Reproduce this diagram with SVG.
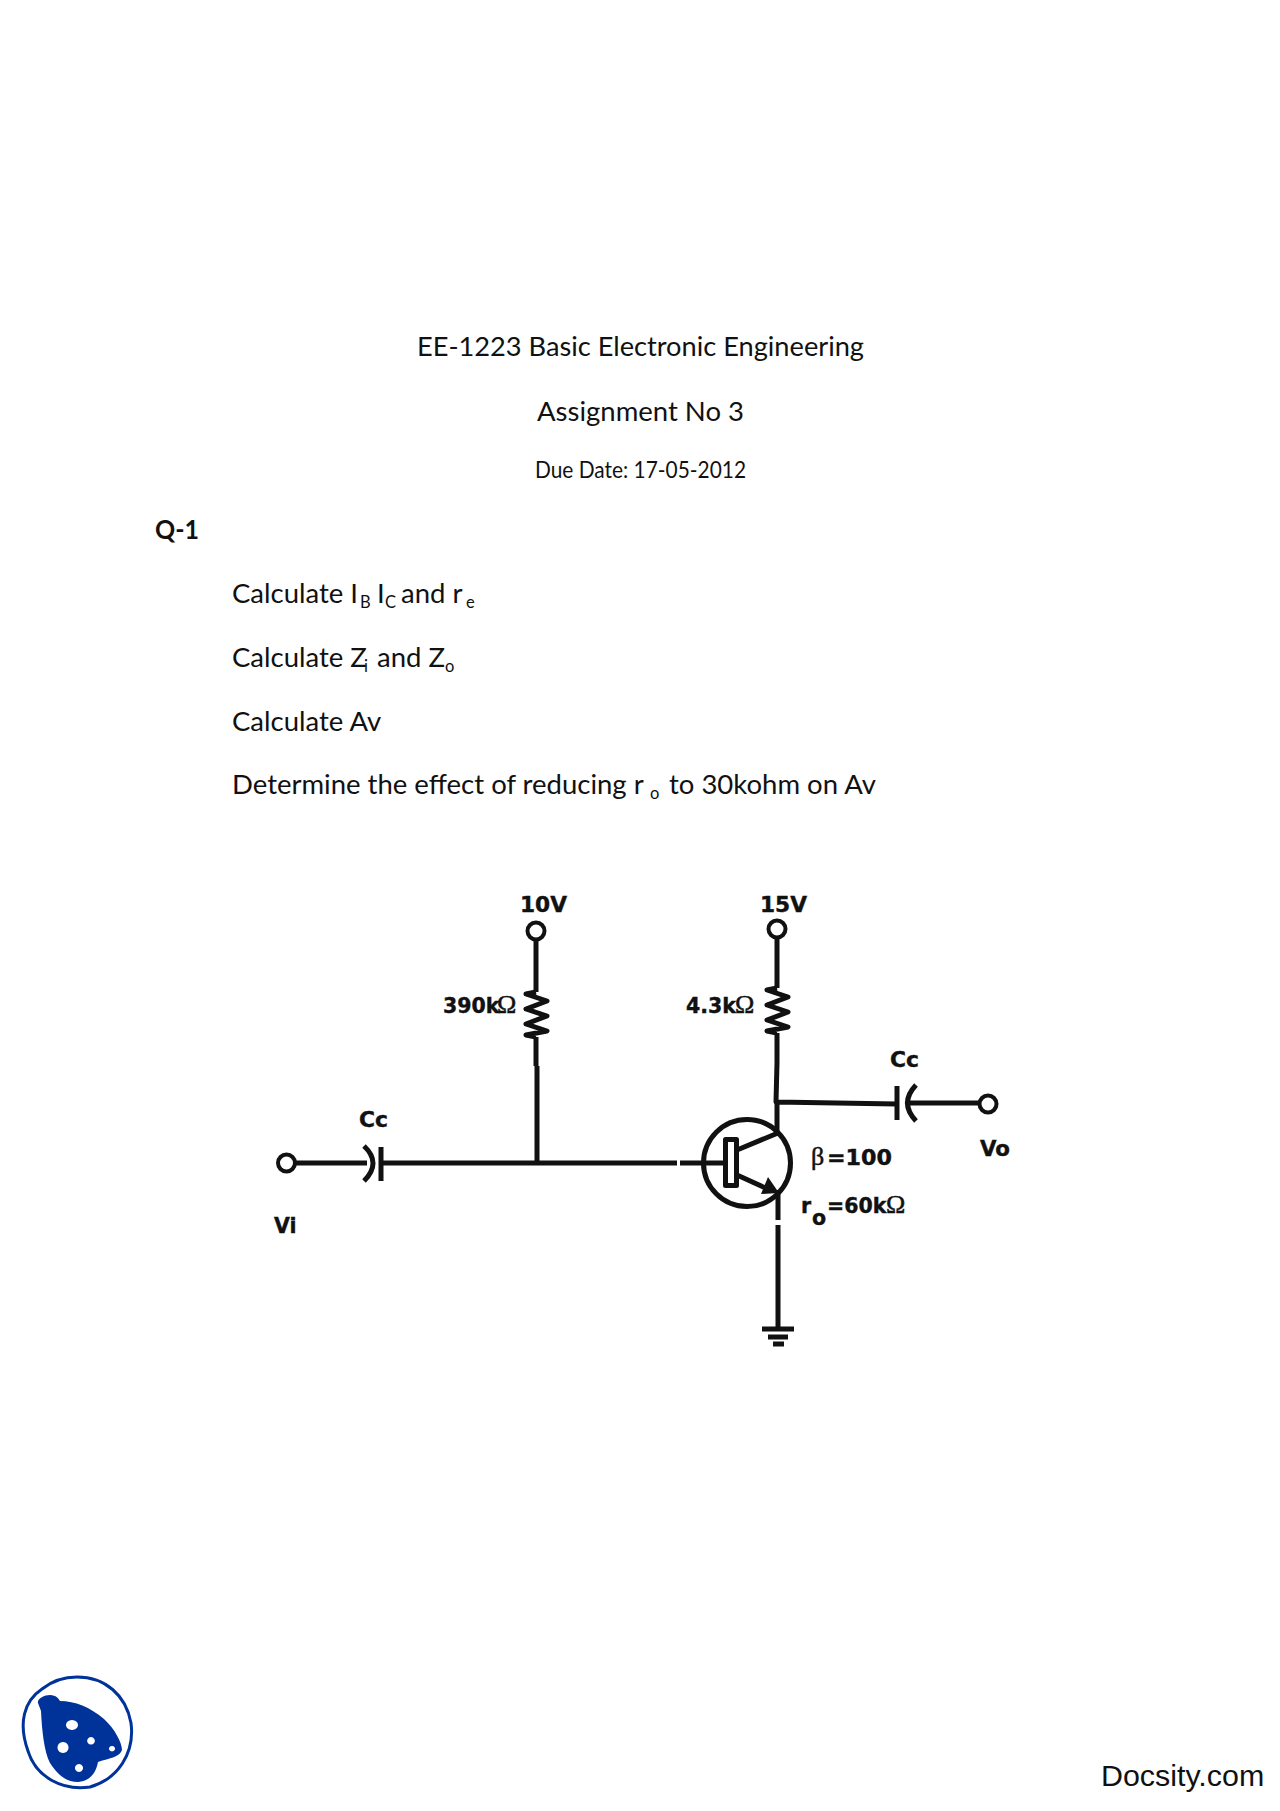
<svg xmlns="http://www.w3.org/2000/svg" width="1280" height="1811" viewBox="0 0 1280 1811">
<style>
.t{font-family:"Lato","Noto Sans",sans-serif;font-size:27.5px;fill:#111}
.s{font-size:16.5px}
.l{font-family:"DejaVu Sans",Verdana,sans-serif;font-weight:700;font-size:20.5px;fill:#111;stroke:#111;stroke-width:.4}
.g{font-family:"Liberation Serif",serif;font-weight:400;font-size:26px;fill:#111;stroke:#111;stroke-width:.5}
.w{fill:none;stroke:#111;stroke-width:5;stroke-linejoin:round}
.p{fill:#fff;stroke:#111;stroke-width:4}
</style>
<rect width="1280" height="1811" fill="#fff"/>
<g id="heading">
<text class="t" x="417" y="356" textLength="447" lengthAdjust="spacingAndGlyphs">EE-1223 Basic Electronic Engineering</text>
<text class="t" x="537" y="421" textLength="207" lengthAdjust="spacingAndGlyphs">Assignment No 3</text>
<text class="t" x="535" y="478" style="font-size:22.500px" textLength="211" lengthAdjust="spacingAndGlyphs">Due Date: 17-05-2012</text>
<text class="t" x="155" y="539" style="font-weight:700" textLength="44" lengthAdjust="spacingAndGlyphs">Q-1</text>
</g>
<g id="questions">
<text class="t" y="603"><tspan x="232">Calculate I</tspan><tspan class="s" x="360" dy="5">B</tspan><tspan x="377" dy="-5">I</tspan><tspan class="s" x="385" dy="5">C</tspan><tspan x="401" dy="-5">and r</tspan><tspan class="s" x="466" dy="5">e</tspan></text>
<text class="t" y="667"><tspan x="232">Calculate Z</tspan><tspan class="s" x="364" dy="5">i</tspan><tspan x="377" dy="-5">and Z</tspan><tspan class="s" x="445" dy="5">o</tspan></text>
<text class="t" x="232" y="731">Calculate Av</text>
<text class="t" y="794"><tspan x="232">Determine the effect of reducing r</tspan><tspan class="s" x="650" dy="5">o</tspan><tspan x="669" dy="-5">to 30kohm on Av</tspan></text>
</g>
<g id="connectors">
<path class="w" d="M294 1163H367M381 1163H677M680 1163H725M536 939V992M536 1037V1066M537 1066V1163"/>
<path class="w" d="M777 937V988M777 1033V1063L776 1102L897 1104M908 1103H980M777 1104V1133M778 1190V1220M778 1225V1327"/>
</g>
<g id="vi-terminal"><circle class="p" cx="286.500" cy="1163" r="8.500"/><text class="l" x="274" y="1233">Vi</text></g>
<g id="input-cap"><path class="w" d="M364 1146Q382 1163 364 1181"/><path class="w" d="M381 1147V1181"/><text class="l" x="359" y="1127" textLength="29" lengthAdjust="spacingAndGlyphs">Cc</text></g>
<g id="v10-terminal"><circle class="p" cx="536" cy="931" r="8.500"/><text class="l" x="520" y="912" textLength="47" lengthAdjust="spacingAndGlyphs">10V</text></g>
<g id="r390"><path class="w" d="M536 992L526 994L547 1001L526 1009L547 1016L526 1024L547 1031L526 1035L536 1037"/><text class="l" x="443" y="1013">390k<tspan class="g" x="497">Ω</tspan></text></g>
<g id="v15-terminal"><circle class="p" cx="777" cy="929" r="8.500"/><text class="l" x="760" y="912" textLength="47" lengthAdjust="spacingAndGlyphs">15V</text></g>
<g id="r43"><path class="w" d="M777 988L767 990L788 997L767 1005L788 1012L767 1020L788 1027L767 1031L777 1033"/><text class="l" x="686" y="1013">4.3k<tspan class="g" x="735">Ω</tspan></text></g>
<g id="output-cap"><path class="w" d="M897 1086V1120"/><path class="w" d="M916 1085Q899 1103 916 1121"/><text class="l" x="890" y="1067" textLength="29" lengthAdjust="spacingAndGlyphs">Cc</text></g>
<g id="vo-terminal"><circle class="p" cx="988" cy="1104" r="8.500"/><text class="l" x="980" y="1156" textLength="30" lengthAdjust="spacingAndGlyphs">Vo</text></g>
<g id="transistor">
<circle class="w" cx="747" cy="1163" r="43.500"/>
<rect class="w" x="725.500" y="1139.500" width="11" height="46"/>
<path class="w" d="M737 1150L778 1133M737 1175L772 1191"/>
<path fill="#111" d="M779 1193L768 1177L761 1194Z"/>
<text class="l" y="1165"><tspan class="g" x="811">β</tspan><tspan x="827" textLength="65" lengthAdjust="spacingAndGlyphs">=100</tspan></text>
<text class="l" y="1213"><tspan x="801">r</tspan><tspan x="812" y="1225">o</tspan><tspan x="827" y="1213">=60k</tspan><tspan class="g" x="886">Ω</tspan></text>
</g>
<g id="ground"><path class="w" d="M762 1329H794M768 1337H788M773 1344H784"/></g>
<g id="logo" transform="translate(0 1)">
<path fill="none" stroke="#003399" stroke-width="3" d="M77 1676C105 1676 126 1694 131 1722C135 1752 118 1778 90 1786C62 1790 36 1776 28 1750C18 1722 24 1700 42 1688C52 1680 64 1676 77 1676Z"/>
<path fill="#003399" fill-rule="evenodd" d="M38 1702C37 1698 44 1694 50 1694C56 1694 59 1698 60 1700C75 1700 90 1706 104 1718C115 1728 122 1742 122 1749C120 1756 110 1757 98 1761C96 1772 90 1780 78 1781C66 1781 58 1774 50 1762C44 1750 42 1730 41 1710Z M72 1719a6 5 0 1 0 .01 0Z M63 1741a5.500 5.500 0 1 0 .01 0Z M91 1736a3.800 3.800 0 1 0 .01 0Z M112 1745a3 2.700 0 1 0 .01 0Z M79 1763a4 4 0 1 0 .01 0Z"/>
</g>
<g id="brand"><text x="1101" y="1786" style="font-family:'Liberation Sans',Arial,sans-serif;font-size:30.400px;fill:#111">Docsity.com</text></g>
</svg>
